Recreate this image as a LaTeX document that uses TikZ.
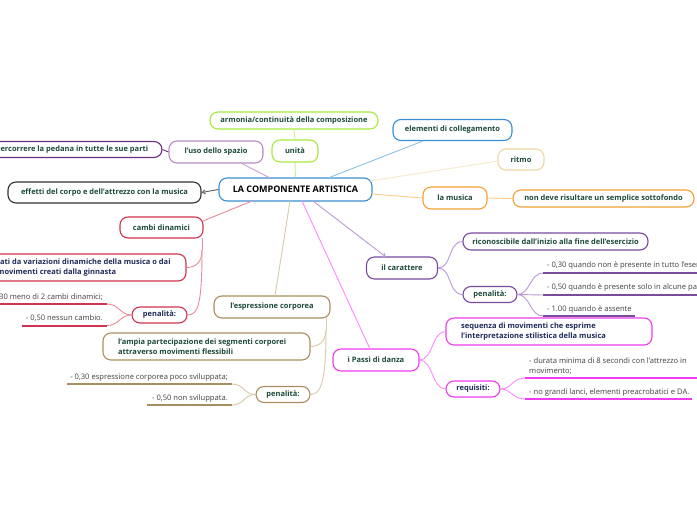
\documentclass[tikz,border=0pt]{standalone}
\usepackage{fontspec}
\setmainfont{Open Sans}
\usetikzlibrary{arrows.meta}
\definecolor{tgreen}{HTML}{1D4A3A}
\definecolor{tnavy}{HTML}{1F2A5A}
\definecolor{tgray}{HTML}{404040}
\definecolor{cblue}{HTML}{3B8FD0}
\definecolor{lblue}{HTML}{8CC2E2}
\definecolor{clime}{HTML}{A6EA3C}
\definecolor{llime}{HTML}{C8F08A}
\definecolor{cpurL}{HTML}{B98CC6}
\definecolor{cpurD}{HTML}{6A2D82}
\definecolor{cpur}{HTML}{7A4A9C}
\definecolor{lpur}{HTML}{B89AD6}
\definecolor{ccrim}{HTML}{CF3450}
\definecolor{lcrim}{HTML}{E98C9A}
\definecolor{ctan}{HTML}{A88F62}
\definecolor{ltan}{HTML}{D8C8AC}
\definecolor{cmag}{HTML}{EE3CEE}
\definecolor{lmag}{HTML}{FF88FF}
\definecolor{corange}{HTML}{F5A033}
\definecolor{lorange}{HTML}{FFCC88}
\definecolor{cbeige}{HTML}{F0D7A4}
\definecolor{lbeige}{HTML}{F6E8CC}
\definecolor{cdark}{HTML}{333333}
\tikzset{
  mbox/.style={draw, rounded corners=8pt, fill=white, line width=1.1pt, inner sep=0pt,
    font=\bfseries\fontsize{7.5}{9.5}\selectfont, text=tgreen, align=center},
  plain/.style={inner sep=0pt, font=\fontsize{7.6}{10}\selectfont, text=tgray},
  conn/.style={line width=0.9pt},
  uline/.style={line width=2pt},
}
\begin{document}
\begin{tikzpicture}[x=1pt,y=-1pt]
\useasboundingbox[fill=white] (0,0) rectangle (697,520);

% central
\node[mbox, draw=cblue, minimum width=153pt, minimum height=23pt, text=black,
  font=\bfseries\fontsize{9}{11}\selectfont] (c) at (295.5,189.5) {LA COMPONENTE ARTISTICA};

% top
\node[mbox, draw=clime, minimum width=46pt, minimum height=22pt] (unita) at (295,151) {unità};
\node[mbox, draw=clime, minimum width=168pt, minimum height=17pt] (armonia) at (294,120.5) {armonia/continuità della composizione};
\node[mbox, draw=cpurL, minimum width=94pt, minimum height=22pt] (uso) at (216,152) {l'uso dello spazio};
\node[mbox, draw=cpurD, minimum width=180pt, minimum height=16pt] (perc) at (72,149.5) {percorrere la pedana in tutte le sue parti};
\node[mbox, draw=cdark, minimum width=193pt, minimum height=21pt] (eff) at (104.5,192.5) {effetti del corpo e dell'attrezzo con la musica};

% right top
\node[mbox, draw=cblue, minimum width=119pt, minimum height=21pt] (elem) at (452.5,130) {elementi di collegamento};
\node[mbox, draw=cbeige, minimum width=46pt, minimum height=21pt] (ritmo) at (521,159.5) {ritmo};
\node[mbox, draw=corange, minimum width=64pt, minimum height=22pt] (musica) at (455,198) {la musica};
\node[mbox, draw=corange, minimum width=181pt, minimum height=17pt] (nondeve) at (603.5,198.5) {non deve risultare un semplice sottofondo};

% cambi dinamici branch
\node[mbox, draw=ccrim, minimum width=83pt, minimum height=21pt] (cambi) at (161.5,227.5) {cambi dinamici};
\node[mbox, draw=ccrim, minimum width=212pt, minimum height=27pt] (var) at (80,267.5) {};
\node[inner sep=0pt, anchor=west, align=left, text=tnavy, font=\bfseries\fontsize{7.5}{10}\selectfont] (vartxt) at (-3,267.5) {\hspace*{3pt}ati da variazioni dinamiche della musica o dai\\movimenti creati dalla ginnasta};
\node[mbox, draw=ccrim, text=tnavy, minimum width=55pt, minimum height=16pt] (pen1) at (159.5,315) {penalità:};
\node[plain, anchor=base east] (t1) at (103,299.5) {- 0,30 meno di 2 cambi dinamici;};
\node[plain, anchor=base east] (t2) at (103,320.5) {- 0,50 nessun cambio.};
\coordinate (u1a) at (-15,304); \coordinate (u1b) at (107,304);
\coordinate (u2a) at (22,325.5); \coordinate (u2b) at (107,325.5);
\draw[uline, ccrim] (u1a) -- (u1b);
\draw[uline, ccrim] (u2a) -- (u2b);

% espressione branch
\node[mbox, draw=ctan, minimum width=116pt, minimum height=22pt] (espr) at (272,307) {l'espressione corporea};
\node[mbox, draw=ctan, minimum width=207pt, minimum height=27pt] (ampia) at (206.5,346.5) {};
\node[inner sep=0pt, anchor=west, align=left, text=tgreen, font=\bfseries\fontsize{7.5}{10}\selectfont] (ampiatxt) at (118,346.5) {l'ampia partecipazione dei segmenti corporei\\attraverso movimenti flessibili};
\node[mbox, draw=ctan, minimum width=54pt, minimum height=16pt] (pen2) at (283,394.5) {penalità:};
\node[plain, anchor=base east] (t3) at (228,379.5) {- 0,30 espressione corporea poco sviluppata;};
\node[plain, anchor=base east] (t4) at (228,400) {- 0,50 non sviluppata.};
\coordinate (u3a) at (67,384); \coordinate (u3b) at (232,384);
\coordinate (u4a) at (147,405); \coordinate (u4b) at (232,405);
\draw[uline, ctan] (u3a) -- (u3b);
\draw[uline, ctan] (u4a) -- (u4b);

% carattere branch
\node[mbox, draw=cpur, minimum width=71pt, minimum height=22pt] (car) at (402,268) {il carattere};
\node[mbox, draw=cpur, minimum width=185pt, minimum height=17pt] (ricon) at (555.5,241.5) {riconoscibile dall'inizio alla fine dell'esercizio};
\node[mbox, draw=cpur, minimum width=54pt, minimum height=16pt] (pen3) at (490,294.5) {penalità:};
\node[plain, anchor=base west] (t5) at (547,267.5) {- 0,30 quando non è presente in tutto l'esercizio};
\node[plain, anchor=base west] (t6) at (547,289.5) {- 0,50 quando è presente solo in alcune parti};
\node[plain, anchor=base west] (t7) at (547,311) {- 1.00 quando è assente};
\coordinate (u5a) at (543,273); \coordinate (u5b) at (710,273);
\coordinate (u6a) at (543,295); \coordinate (u6b) at (710,295);
\coordinate (u7a) at (543,316); \coordinate (u7b) at (635,316);
\draw[uline, cpur] (u5a) -- (u5b);
\draw[uline, cpur] (u6a) -- (u6b);
\draw[uline, cpur] (u7a) -- (u7b);

% passi branch
\node[mbox, draw=cmag, minimum width=86pt, minimum height=22pt] (passi) at (376,360) {i Passi di danza};
\node[mbox, draw=cmag, minimum width=206pt, minimum height=27pt] (seq) at (549,331.5) {};
\node[inner sep=0pt, anchor=west, align=left, text=tnavy, font=\bfseries\fontsize{7.5}{10}\selectfont] (seqtxt) at (461,331.5) {sequenza di movimenti che esprime\\l'interpretazione stilistica della musica};
\node[mbox, draw=cmag, text=tnavy, minimum width=54pt, minimum height=16pt] (req) at (473,389) {requisiti:};
\node[plain, anchor=base west] (t8) at (529,363.5) {- durata minima di 8 secondi con l'attrezzo in};
\node[plain, anchor=base west] (t8b) at (529,373.5) {movimento;};
\node[plain, anchor=base west] (t9) at (529,394.5) {- no grandi lanci, elementi preacrobatici e DA.};
\coordinate (u8a) at (525,378); \coordinate (u8b) at (710,378);
\coordinate (u9a) at (525,399); \coordinate (u9b) at (692,399);
\draw[uline, cmag] (u8a) -- (u8b);
\draw[uline, cmag] (u9a) -- (u9b);

% central connectors
\draw[conn, llime] (c.north) -- (unita.south);
\draw[conn, llime] (unita.north) -- (armonia.south);
\draw[conn, cpurL!80] (270,178) -- (241,163);
\draw[conn, cpurD] (uso.west) -- (perc.east);
\draw[conn, cdark!80, -{Straight Barb[length=3pt,width=4pt]}] (c.west) -- (eff.east);
\draw[conn, lblue] (328,178) -- (423,141);
\draw[conn, lbeige] (370,181) -- (498,161);
\draw[conn, lorange] (372,194) -- (musica.west);
\draw[conn, lorange] (musica.east) -- (nondeve.west);
\draw[conn, lcrim] (252,201) -- (203,221);
\draw[conn, ltan] (290,201) -- (275,296);
\draw[conn, lmag] (302,201) -- (370,349);
\draw[conn, lpur, -{Straight Barb[length=3pt,width=4pt]}] (313,201) -- (386,257);

% sub connectors
\coordinate (cj) at (202,250);
\draw[conn, lcrim] (202,238) -- (cj);
\draw[conn, lcrim] (cj) .. controls (202,262) and (196,267.5) .. (var.east);
\draw[conn, lcrim] (cj) .. controls (202,305) and (198,315) .. (pen1.east);
\draw[conn, lcrim] (pen1.west) .. controls (120,315) and (119,304) .. (u1b);
\draw[conn, lcrim] (pen1.west) .. controls (120,315) and (119,325.5) .. (u2b);

\coordinate (ej) at (326,330);
\draw[conn, ltan] (326,318) -- (ej);
\draw[conn, ltan] (ej) .. controls (326,341) and (319,346.5) .. (ampia.east);
\draw[conn, ltan] (ej) .. controls (326,385) and (320,394.5) .. (pen2.east);
\draw[conn, ltan] (pen2.west) .. controls (244,394.5) and (244,384) .. (u3b);
\draw[conn, ltan] (pen2.west) .. controls (244,394.5) and (244,405) .. (u4b);

\draw[conn, lpur] (car.east) .. controls (452,268) and (448,241.5) .. (ricon.west);
\draw[conn, lpur] (car.east) .. controls (452,268) and (448,294.5) .. (pen3.west);
\draw[conn, lpur] (pen3.east) .. controls (530,294.5) and (530,273) .. (u5a);
\draw[conn, lpur] (pen3.east) -- (u6a);
\draw[conn, lpur] (pen3.east) .. controls (530,294.5) and (530,316) .. (u7a);

\draw[conn, lmag] (passi.east) .. controls (433,360) and (432,331.5) .. (seq.west);
\draw[conn, lmag] (passi.east) .. controls (433,360) and (432,389) .. (req.west);
\draw[conn, lmag] (req.east) .. controls (512,389) and (512,378) .. (u8a);
\draw[conn, lmag] (req.east) .. controls (512,389) and (512,399) .. (u9a);
\end{tikzpicture}
\end{document}
